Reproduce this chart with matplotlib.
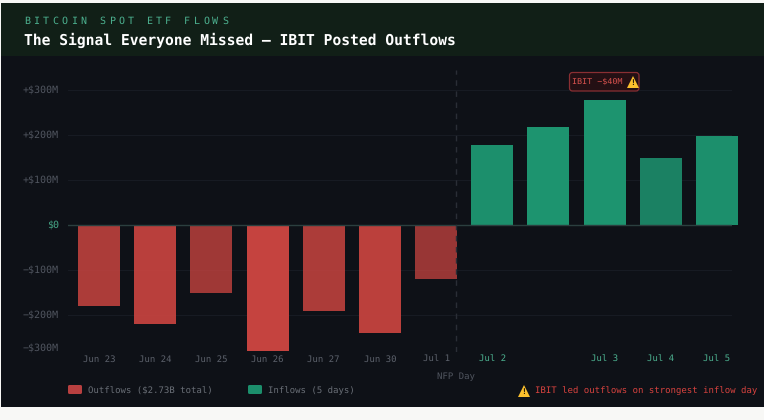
"""
Bitcoin spot ETF flows: daily bars around NFP day, dark dashboard style.
"""

import matplotlib
matplotlib.use("Agg")

import matplotlib.pyplot as plt
from matplotlib.patches import FancyBboxPatch, Rectangle

plt.rcParams["text.hinting"] = "no_hinting"
plt.rcParams["text.hinting_factor"] = 8

W, H = 764, 420
MONO = "DejaVu Sans Mono"
STEP = 56.18  # px between bar centres

# daily flows, $M
outflow_days = ["Jun 23", "Jun 24", "Jun 25", "Jun 26", "Jun 27", "Jun 30", "Jul 1"]
outflow_values = [-180, -220, -151, -280, -191, -240, -120]
outflow_alpha = [0.87, 0.94, 0.80, 1.00, 0.87, 0.95, 0.76]

inflow_days = ["Jul 2", "", "Jul 3", "Jul 4", "Jul 5"]
inflow_values = [178, 218, 278, 149, 198]
inflow_colors = ["#1c8f6c", "#1d946f", "#1d946f", "#1b8163", "#1c8f6c"]

ytick_values = [300, 200, 100, 0, -100, -200]
ytick_labels = ["+$300M", "+$200M", "+$100M", "$0", "−$100M", "−$200M"]


def px_rect(x0, y0, x1, y1):
    """Figure-fraction rect from pixel edges, y measured from the top."""
    return [x0 / W, 1 - y1 / H, (x1 - x0) / W, (y1 - y0) / H]


def rounded_box(fig, x0, y0, x1, y1, radius, **kwargs):
    """Rounded rectangle given in pixels from the top-left corner."""
    left, bottom, width, height = px_rect(x0, y0, x1, y1)
    box = FancyBboxPatch((left, bottom), width, height,
                         boxstyle=f"round,pad=0,rounding_size={radius / W}",
                         mutation_aspect=W / H, transform=fig.transFigure, **kwargs)
    fig.add_artist(box)


def warning_sign(fig, x, y, size):
    """Filled yellow warning triangle at pixel position (x, y)."""
    fx, fy = x / W, 1 - y / H
    fig.add_artist(plt.Line2D([fx], [fy], marker="^", markersize=size, color="#fbc02d",
                              markeredgewidth=0, transform=fig.transFigure))
    fig.text(fx, fy - 1 / H, "!", color="#1a1205", fontsize=size * 0.7, family=MONO,
             weight="bold", ha="center", va="center")


def main():
    fig = plt.figure(figsize=(W / 100, H / 100), dpi=100, facecolor="#f8f8f6")

    # dark card and header band, kept behind the axes
    fig.add_artist(Rectangle((1 / W, 1 - 407 / H), 763 / W, 404 / H, color="#0e1117",
                             transform=fig.transFigure, lw=0, zorder=-2))
    fig.add_artist(Rectangle((1 / W, 1 - 56 / H), 763 / W, 53 / H, color="#111f17",
                             transform=fig.transFigure, lw=0, zorder=-1))

    # letter-spaced eyebrow
    for i, ch in enumerate("BITCOIN SPOT ETF FLOWS"):
        fig.text((24 + 9.42 * i) / W, 1 - 21.5 / H, ch, color="#4cb08f", fontsize=7.2,
                 family=MONO, va="center")
    fig.text(24 / W, 1 - 40.5 / H, "The Signal Everyone Missed — IBIT Posted Outflows",
             color="#ffffff", fontsize=10.5, family=MONO, weight="bold", va="center")

    # 45 px per $100M, zero at y=225; first bar centre at x=99
    ax = fig.add_axes(px_rect(68, 70, 732, 352))
    ax.patch.set_alpha(0)
    ax.set_xlim((68 - 99) / STEP, (732 - 99) / STEP)
    ax.set_ylim((225 - 352) / 0.45, (225 - 70) / 0.45)
    for s in ax.spines.values():
        s.set_visible(False)
    ax.tick_params(length=0, labelbottom=False, labelleft=False)

    for v in ytick_values:
        if v != 0:
            ax.axhline(v, color="#171b23", lw=0.8, zorder=1)
    ax.axhline(0, color="#2b3f3f", lw=1, zorder=3)

    out_x = list(range(len(outflow_values)))
    in_x = [len(out_x) + i for i in range(len(inflow_values))]

    for x, v, a in zip(out_x, outflow_values, outflow_alpha):
        ax.bar(x, v, width=42 / STEP, color="#c5433f", alpha=a, lw=0, zorder=2, clip_on=False)
    for x, v, c in zip(in_x, inflow_values, inflow_colors):
        ax.bar(x, v, width=42 / STEP, color=c, lw=0, zorder=2, clip_on=False)

    # NFP divider, between Jul 1 and Jul 2
    ax.axvline(6.36, color="#2a2e36", lw=1, ls=(0, (4, 4)), zorder=4)

    for v, lab in zip(ytick_values, ytick_labels):
        color = "#45a585" if v == 0 else "#50555f"
        ax.annotate(lab, (0, v), xycoords=("axes fraction", "data"), xytext=(-9, -0.5),
                    textcoords="offset pixels", color=color, fontsize=7.2, family=MONO,
                    ha="right", va="center")
    fig.text(59 / W, 1 - 348.5 / H, "−$300M", color="#50555f", fontsize=7.2, family=MONO,
             ha="right", va="center")

    for x, lab in zip(out_x, outflow_days):
        fig.text((99 + STEP * x) / W, 1 - 359.5 / H, lab, color="#5c616b", fontsize=6.5,
                 family=MONO, ha="center", va="center")
    for x, lab in zip(in_x, inflow_days):
        fig.text((99 + STEP * x) / W, 1 - 359.5 / H, lab, color="#4cb08f", fontsize=6.5,
                 family=MONO, ha="center", va="center")
    fig.text(456 / W, 1 - 376.5 / H, "NFP Day", color="#50555f", fontsize=6.5, family=MONO,
             ha="center", va="center")

    # IBIT callout
    rounded_box(fig, 569.5, 72.5, 639, 91, 3, fc="#241014", ec="#8a2f33", lw=0.9)
    fig.text(571.5 / W, 1 - 82 / H, "IBIT −$40M", color="#d9524e", fontsize=6, family=MONO,
             va="center")
    warning_sign(fig, 632.5, 81.5, 8.2)

    # legend row
    rounded_box(fig, 68, 385, 82, 394, 1.5, fc="#b84040", lw=0)
    fig.text(88.5 / W, 1 - 391 / H, "Outflows ($2.73B total)", color="#6a6f77", fontsize=6.5,
             family=MONO, va="center")
    rounded_box(fig, 248, 385, 262, 394, 1.5, fc="#1c8f6c", lw=0)
    fig.text(268.5 / W, 1 - 391 / H, "Inflows (5 days)", color="#6a6f77", fontsize=6.5,
             family=MONO, va="center")
    warning_sign(fig, 523.5, 390.5, 8.2)
    fig.text(535 / W, 1 - 391 / H, "IBIT led outflows on strongest inflow day",
             color="#d9433f", fontsize=6.5, family=MONO, va="center")

    fig.savefig("out.png", dpi=100, facecolor=fig.get_facecolor())
    plt.close(fig)


if __name__ == "__main__":
    main()
